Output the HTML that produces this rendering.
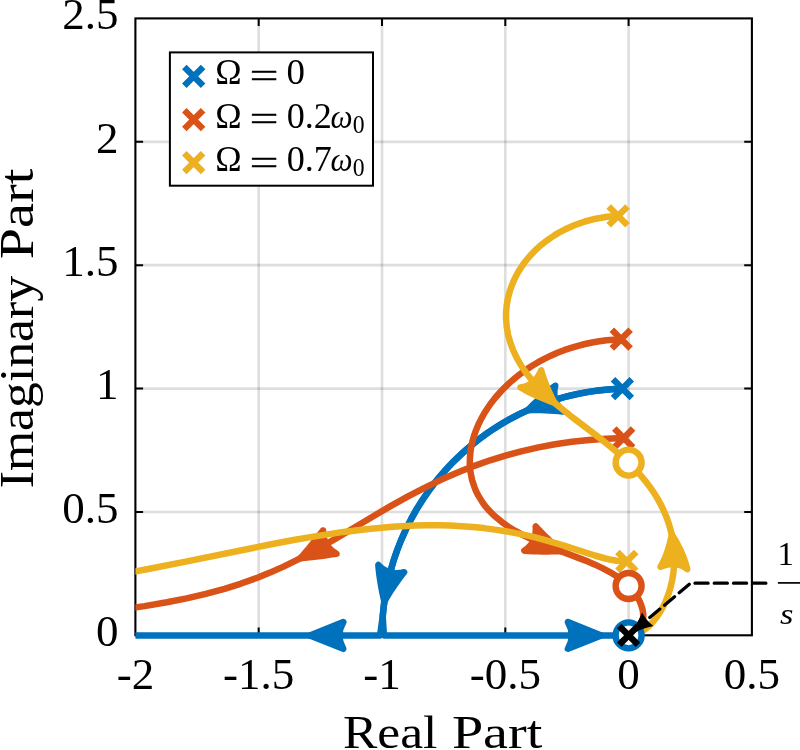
<!DOCTYPE html>
<html><head><meta charset="utf-8"><title>Root Locus</title>
<style>html,body{margin:0;padding:0;background:#fff}svg{display:block}</style></head>
<body>
<svg width="800" height="750" viewBox="0 0 800 750">
<rect width="800" height="750" fill="#fff"/>
<path d="M258.7,18.4 V635.3 M382.0,18.4 V635.3 M505.3,18.4 V635.3 M628.6,18.4 V635.3" stroke="#000" stroke-opacity="0.13" stroke-width="2.7" fill="none"/>
<path d="M135.4,512.0 H751.9 M135.4,388.6 H751.9 M135.4,265.2 H751.9 M135.4,141.8 H751.9" stroke="#000" stroke-opacity="0.13" stroke-width="2.7" fill="none"/>
<defs><clipPath id="cp"><rect x="135.4" y="18.4" width="616.5" height="646.9"/></clipPath></defs>
<path d="M258.7,635.3 v-7.7 M258.7,18.4 v7.7 M382.0,635.3 v-7.7 M382.0,18.4 v7.7 M505.3,635.3 v-7.7 M505.3,18.4 v7.7 M628.6,635.3 v-7.7 M628.6,18.4 v7.7 M135.4,512.0 h7.7 M751.9,512.0 h-7.7 M135.4,388.6 h7.7 M751.9,388.6 h-7.7 M135.4,265.2 h7.7 M751.9,265.2 h-7.7 M135.4,141.8 h7.7 M751.9,141.8 h-7.7" stroke="#000" stroke-width="2" fill="none"/>
<rect x="135.4" y="18.4" width="616.5" height="616.9" fill="none" stroke="#000" stroke-width="2.1"/>
<path d="M613.0,379.2 l18.8,18.8 M613.0,398.0 l18.8,-18.8" stroke="#0072BD" stroke-width="6.4" fill="none"/>
<path d="M611.8,329.8 l18.8,18.8 M611.8,348.6 l18.8,-18.8" stroke="#D95319" stroke-width="6.4" fill="none"/>
<path d="M614.3,428.6 l18.8,18.8 M614.3,447.4 l18.8,-18.8" stroke="#D95319" stroke-width="6.4" fill="none"/>
<path d="M608.7,206.4 l18.8,18.8 M608.7,225.2 l18.8,-18.8" stroke="#EDB120" stroke-width="6.4" fill="none"/>
<path d="M617.4,552.0 l18.8,18.8 M617.4,570.8 l18.8,-18.8" stroke="#EDB120" stroke-width="6.4" fill="none"/>
<g clip-path="url(#cp)">
<path d="M622.4,388.7 L611.1,389.2 L599.8,390.3 L588.6,391.9 L577.5,394.0 L566.5,396.5 L555.6,399.7 L545.0,403.2 L534.3,407.3 L524.0,411.9 L513.9,416.9 L504.1,422.3 L494.3,428.4 L484.9,434.8 L475.8,441.7 L467.0,449.0 L458.6,456.6 L450.4,464.8 L442.8,473.1 L435.5,481.9 L429.1,490.3 L423.1,499.0 L416.8,508.9 L411.1,519.1 L405.8,529.6 L401.1,540.1 L397.0,550.6 L393.5,560.8 L390.0,573.1 L387.8,582.1 L385.7,593.1 L384.2,602.5 L382.7,616.4 L383.9,635.4 L628.6,635.4" fill="none" stroke="#0072BD" stroke-width="6.5" stroke-linejoin="round"/>
<path d="M622.4,388.7 L610.6,389.3 L598.8,390.4 L587.2,392.1 L575.5,394.4 L564.1,397.2 L552.7,400.6 L541.4,404.6 L530.5,409.0 L519.7,414.0 L509.1,419.5 L498.9,425.5 L489.1,431.9 L479.3,438.9 L470.3,446.2 L461.6,453.8 L453.0,462.1 L445.0,470.6 L437.2,479.7 L429.7,489.5 L423.1,499.0 L416.8,508.9 L411.1,519.1 L405.8,529.6 L401.1,540.1 L397.0,550.6 L393.5,560.8 L390.7,570.5 L387.8,582.1 L386.4,589.1 L384.9,597.5 L383.5,608.5 L382.7,616.4 L380.1,635.4 L96.6,635.4" fill="none" stroke="#0072BD" stroke-width="6.5" stroke-linejoin="round"/>
<path transform="translate(306.7,635.4) rotate(180.0)" d="M-3.2,0 L-36.6,-13.4 Q-28.8,0 -36.6,13.4 Z" fill="#0072BD" stroke="#0072BD" stroke-width="6.5" stroke-linejoin="round"/>
<path transform="translate(604.5,635.4) rotate(0.0)" d="M-3.2,0 L-36.6,-13.4 Q-28.8,0 -36.6,13.4 Z" fill="#0072BD" stroke="#0072BD" stroke-width="6.5" stroke-linejoin="round"/>
<path d="M384.4,601.3 L386.6,597.4 L389.0,593.6 L391.3,589.9 L393.8,586.2 L396.3,582.6 L398.8,579.1 L401.4,575.6 L404.1,572.2 L401.6,572.7 L399.2,573.1 L396.9,573.2 L394.6,573.1 L392.4,572.9 L390.2,572.4 L388.0,571.7 L386.0,570.8 L384.0,569.7 L382.0,568.4 L380.1,566.8 L378.3,565.0 L378.8,569.7 L379.3,574.3 L380.0,578.9 L380.7,583.5 L381.5,588.0 L382.4,592.5 L383.3,596.9 Z" fill="#0072BD" stroke="#0072BD" stroke-width="6.5" stroke-linejoin="round"/>
<path d="M527.7,410.2 L532.2,410.1 L536.7,410.0 L541.1,410.0 L545.5,410.2 L549.9,410.4 L554.2,410.7 L558.5,411.0 L562.8,411.5 L561.1,409.7 L559.5,407.8 L558.2,405.9 L557.0,403.9 L556.1,401.9 L555.3,399.8 L554.7,397.6 L554.4,395.4 L554.3,393.1 L554.4,390.7 L554.7,388.3 L555.2,385.8 L551.5,388.6 L547.9,391.6 L544.3,394.6 L540.9,397.6 L537.5,400.7 L534.1,403.8 L530.9,407.0 Z" fill="#0072BD" stroke="#0072BD" stroke-width="6.5" stroke-linejoin="round"/>
<path d="M621.2,339.3 L613.9,339.7 L606.6,340.3 L599.3,341.3 L592.1,342.5 L585.0,344.0 L578.0,345.8 L571.1,347.9 L564.1,350.2 L557.4,352.8 L550.8,355.7 L544.4,358.8 L538.1,362.2 L531.8,366.0 L526.0,369.8 L520.4,373.8 L514.9,378.2 L509.5,382.9 L504.6,387.6 L499.9,392.5 L495.5,397.5 L491.4,402.7 L487.7,408.0 L484.3,413.2 L481.2,418.9 L478.4,424.5 L475.9,430.5 L473.9,436.2 L472.4,441.6 L471.1,447.3 L470.3,453.3 L469.9,458.7 L469.8,464.2 L470.5,472.1 L472.1,480.0 L474.6,487.6 L476.1,491.3 L478.2,495.4 L482.5,502.4 L485.0,505.8 L488.0,509.4 L494.3,515.8 L501.3,521.6 L507.9,526.4 L514.9,530.7 L522.6,534.9 L531.4,539.2 L539.1,542.6 L548.0,546.2 L585.6,560.6 L594.5,564.4 L602.4,568.1 L609.9,572.1 L616.6,576.3 L622.6,580.7 L627.8,585.3" fill="none" stroke="#D95319" stroke-width="6.5" stroke-linejoin="round"/>
<path d="M623.7,438.0 L606.2,438.7 L589.0,440.0 L571.9,441.8 L555.0,444.3 L538.5,447.4 L522.1,451.1 L506.2,455.4 L490.1,460.3 L473.7,466.1 L457.6,472.5 L441.4,479.6 L424.5,487.8 L408.5,496.1 L391.4,505.6 L375.0,515.2 L333.1,540.2 L309.5,553.5 L296.2,560.4 L283.5,566.6 L270.0,572.6 L257.4,577.7 L240.4,583.8 L224.5,588.8 L205.9,593.9 L186.6,598.4 L166.9,602.3 L144.5,606.1 L121.6,609.3 L95.9,612.4" fill="none" stroke="#D95319" stroke-width="6.5" stroke-linejoin="round"/>
<path d="M628.6,635.4 L631.5,635.0 L634.2,634.0 L636.8,632.3 L639.0,630.0 L640.8,627.2 L642.1,624.0 L643.0,620.5 L643.3,616.7 L643.1,613.0 L642.5,609.2 L641.3,605.4 L639.8,601.5 L637.8,597.7 L635.4,594.0 L632.6,590.4 L629.4,586.8" fill="none" stroke="#D95319" stroke-width="6.5" stroke-linejoin="round"/>
<path d="M300.5,558.2 L305.0,557.8 L309.5,557.3 L314.0,556.8 L318.5,556.2 L323.0,555.7 L327.5,555.0 L332.0,554.4 L336.5,553.7 L334.3,552.4 L332.3,551.0 L330.6,549.4 L329.0,547.8 L327.6,546.0 L326.4,544.1 L325.4,542.1 L324.5,540.0 L323.9,537.8 L323.4,535.5 L323.1,533.1 L323.0,530.6 L320.3,534.1 L317.6,537.6 L314.8,541.0 L312.0,544.5 L309.2,548.0 L306.3,551.4 L303.4,554.8 Z" fill="#D95319" stroke="#D95319" stroke-width="6.5" stroke-linejoin="round"/>
<path d="M561.0,551.2 L557.7,548.1 L554.4,545.1 L551.1,542.0 L547.9,538.9 L544.7,535.9 L541.7,532.7 L538.6,529.6 L535.7,526.4 L535.8,528.9 L535.7,531.3 L535.5,533.7 L535.1,535.9 L534.4,538.1 L533.6,540.2 L532.6,542.2 L531.4,544.1 L530.0,545.9 L528.3,547.6 L526.5,549.2 L524.4,550.7 L529.1,551.0 L533.7,551.2 L538.3,551.3 L542.9,551.4 L547.5,551.4 L552.0,551.3 L556.5,551.3 Z" fill="#D95319" stroke="#D95319" stroke-width="6.5" stroke-linejoin="round"/>
<path d="M618.1,215.9 L606.9,216.8 L595.8,218.7 L584.9,221.5 L579.6,223.3 L574.3,225.2 L564.3,229.8 L559.5,232.3 L554.8,235.1 L550.3,238.1 L545.8,241.3 L541.5,244.7 L537.6,248.2 L533.7,251.9 L530.3,255.5 L526.9,259.5 L523.7,263.6 L520.9,267.8 L518.1,272.3 L515.7,276.7 L513.6,281.1 L511.7,285.7 L510.0,290.5 L508.7,295.1 L507.6,299.9 L506.8,304.7 L506.3,309.6 L506.0,314.2 L506.1,319.2 L506.8,327.4 L508.2,335.3 L510.5,343.2 L513.4,350.9 L517.1,358.5 L521.4,366.0 L526.6,373.5 L532.5,380.9 L537.8,386.8 L543.5,392.6 L549.7,398.5 L556.8,404.7 L570.5,415.8 L596.9,435.9 L607.4,444.2 L618.0,452.9 L627.1,461.2" fill="none" stroke="#EDB120" stroke-width="6.5" stroke-linejoin="round"/>
<path d="M626.8,561.4 L621.8,561.3 L616.7,560.7 L611.3,559.8 L605.4,558.5 L594.8,555.5 L563.2,545.3 L545.3,540.1 L535.3,537.4 L525.5,535.1 L515.6,533.1 L505.6,531.2 L494.8,529.6 L483.8,528.1 L472.8,527.0 L461.6,526.2 L450.5,525.6 L438.9,525.3 L426.9,525.3 L415.1,525.5 L392.6,526.7 L368.6,528.9 L343.6,531.9 L316.4,536.1 L293.6,540.0 L268.6,544.8 L183.2,562.1 L150.8,568.5 L122.4,573.8 L95.5,578.5" fill="none" stroke="#EDB120" stroke-width="6.5" stroke-linejoin="round"/>
<path d="M628.6,635.4 L632.7,635.0 L636.8,633.9 L641.0,631.9 L645.0,629.3 L649.1,625.9 L653.0,621.7 L656.8,617.0 L660.2,611.7 L663.4,606.1 L666.2,600.0 L668.6,593.7 L670.6,587.1 L672.2,580.3 L673.3,573.5 L674.0,566.6 L674.3,559.6 L674.2,553.2 L673.7,546.9 L672.9,540.5 L671.7,534.3 L670.1,528.1 L668.2,521.9 L665.9,515.7 L663.3,509.7 L660.4,503.8 L657.1,497.9 L653.5,492.1 L649.5,486.4 L645.2,480.8 L640.5,475.2 L635.5,469.6 L630.1,464.1" fill="none" stroke="#EDB120" stroke-width="6.5" stroke-linejoin="round"/>
<path d="M554.3,402.6 L552.3,398.6 L550.4,394.6 L548.5,390.5 L546.8,386.5 L545.2,382.5 L543.7,378.4 L542.4,374.4 L541.2,370.4 L540.2,372.7 L539.0,374.8 L537.8,376.8 L536.4,378.6 L535.0,380.3 L533.3,381.9 L531.6,383.3 L529.7,384.5 L527.6,385.5 L525.4,386.3 L523.0,387.0 L520.5,387.4 L524.7,389.8 L528.9,392.0 L533.1,394.1 L537.3,396.0 L541.6,397.8 L545.8,399.5 L550.1,401.1 Z" fill="#EDB120" stroke="#EDB120" stroke-width="6.5" stroke-linejoin="round"/>
<path d="M671.8,534.7 L670.9,539.1 L669.9,543.4 L668.7,547.6 L667.4,551.7 L665.9,555.7 L664.3,559.5 L662.5,563.2 L660.6,566.8 L662.9,565.9 L665.2,565.2 L667.5,564.6 L669.7,564.2 L672.0,564.0 L674.2,564.0 L676.4,564.3 L678.6,564.7 L680.8,565.4 L683.0,566.4 L685.2,567.6 L687.3,569.1 L685.9,564.3 L684.4,559.7 L682.7,555.2 L680.8,550.8 L678.7,546.6 L676.6,542.5 L674.2,538.5 Z" fill="#EDB120" stroke="#EDB120" stroke-width="6.5" stroke-linejoin="round"/>
</g>
<circle cx="628.6" cy="635.4" r="13.0" fill="#fff" stroke="#0072BD" stroke-width="6.4"/>
<circle cx="628.6" cy="586.0" r="13.0" fill="#fff" stroke="#D95319" stroke-width="6.4"/>
<circle cx="628.6" cy="462.6" r="13.0" fill="#fff" stroke="#EDB120" stroke-width="6.4"/>
<path d="M619.2,626.0 l18.8,18.8 M619.2,644.8 l18.8,-18.8" stroke="#000" stroke-width="6.4" fill="none"/>
<path d="M765.9,583.2 H690.6 L643.9,622.5" fill="none" stroke="#000" stroke-width="3.2" stroke-dasharray="13.2 6.05" stroke-linecap="round" stroke-linejoin="round"/>
<path transform="translate(628.6,635.4) rotate(139.9)" d="M0,0 Q-12,-2.2 -25,-8.8 Q-23,0 -25,8.8 Q-12,2.2 0,0 Z" fill="#000"/>
<path d="M777.9,582.9 H800" stroke="#000" stroke-width="1.7"/>
<text transform="translate(777.60,565.20) scale(1.000,1)" font-size="32.9" text-anchor="start" font-family="'Liberation Serif', serif">1</text>
<text transform="translate(780.10,623.60) scale(1.150,1)" font-size="30.0" text-anchor="start" font-family="'Liberation Serif', serif" font-style="italic">s</text>
<text transform="translate(135.40,688.60) scale(1.040,1)" font-size="43.3" text-anchor="middle" font-family="'Liberation Serif', serif">-2</text>
<text transform="translate(258.70,688.60) scale(1.040,1)" font-size="43.3" text-anchor="middle" font-family="'Liberation Serif', serif">-1.5</text>
<text transform="translate(382.00,688.60) scale(1.040,1)" font-size="43.3" text-anchor="middle" font-family="'Liberation Serif', serif">-1</text>
<text transform="translate(505.30,688.60) scale(1.040,1)" font-size="43.3" text-anchor="middle" font-family="'Liberation Serif', serif">-0.5</text>
<text transform="translate(628.60,688.60) scale(1.040,1)" font-size="43.3" text-anchor="middle" font-family="'Liberation Serif', serif">0</text>
<text transform="translate(751.90,688.60) scale(1.040,1)" font-size="43.3" text-anchor="middle" font-family="'Liberation Serif', serif">0.5</text>
<text transform="translate(118.60,646.10) scale(1.040,1)" font-size="43.3" text-anchor="end" font-family="'Liberation Serif', serif">0</text>
<text transform="translate(118.60,522.70) scale(1.040,1)" font-size="43.3" text-anchor="end" font-family="'Liberation Serif', serif">0.5</text>
<text transform="translate(118.60,399.30) scale(1.040,1)" font-size="43.3" text-anchor="end" font-family="'Liberation Serif', serif">1</text>
<text transform="translate(118.60,275.90) scale(1.040,1)" font-size="43.3" text-anchor="end" font-family="'Liberation Serif', serif">1.5</text>
<text transform="translate(118.60,152.50) scale(1.040,1)" font-size="43.3" text-anchor="end" font-family="'Liberation Serif', serif">2</text>
<text transform="translate(118.60,29.10) scale(1.040,1)" font-size="43.3" text-anchor="end" font-family="'Liberation Serif', serif">2.5</text>
<text transform="translate(342.90,747.60) scale(1.085,1)" font-size="47.5" text-anchor="start" font-family="'Liberation Serif', serif">Real</text>
<text transform="translate(451.90,747.60) scale(1.182,1)" font-size="47.5" text-anchor="start" font-family="'Liberation Serif', serif">Part</text>
<text transform="translate(33,488.3) rotate(-90) scale(1.0885,1)" font-size="47.5" text-anchor="start" font-family="'Liberation Serif', serif">Imaginary</text>
<text transform="translate(33,259.3) rotate(-90) scale(1.185,1)" font-size="47.5" text-anchor="start" font-family="'Liberation Serif', serif">Part</text>
<rect x="169.9" y="52.4" width="203.1" height="133.3" fill="#fff" stroke="#000" stroke-width="2"/>
<path d="M184.3,67.0 l18.8,18.8 M184.3,85.8 l18.8,-18.8" stroke="#0072BD" stroke-width="6.4" fill="none"/>
<text transform="translate(215.25,84.45) scale(1.000,1)" font-size="35.5" text-anchor="start" font-family="'Liberation Serif', serif">Ω</text>
<text transform="translate(249.40,88.25) scale(1.454,1)" font-size="35.5" text-anchor="start" font-family="'Liberation Serif', serif" stroke="#000" stroke-width="0.25">=</text>
<text transform="translate(286.40,84.45) scale(1.040,1)" font-size="35.5" text-anchor="start" font-family="'Liberation Serif', serif">0</text>
<path d="M184.3,110.2 l18.8,18.8 M184.3,129.0 l18.8,-18.8" stroke="#D95319" stroke-width="6.4" fill="none"/>
<text transform="translate(215.25,127.60) scale(1.000,1)" font-size="35.5" text-anchor="start" font-family="'Liberation Serif', serif">Ω</text>
<text transform="translate(249.40,131.40) scale(1.454,1)" font-size="35.5" text-anchor="start" font-family="'Liberation Serif', serif" stroke="#000" stroke-width="0.25">=</text>
<text transform="translate(286.70,127.60) scale(1.018,1)" font-size="35.5" text-anchor="start" font-family="'Liberation Serif', serif">0.2</text>
<text transform="translate(330.50,127.60) scale(0.920,1)" font-size="34.0" text-anchor="start" font-family="'Liberation Serif', serif" font-style="italic">ω</text>
<text transform="translate(352.85,132.90) scale(0.950,1)" font-size="25.0" text-anchor="start" font-family="'Liberation Serif', serif">0</text>
<path d="M184.3,153.3 l18.8,18.8 M184.3,172.1 l18.8,-18.8" stroke="#EDB120" stroke-width="6.4" fill="none"/>
<text transform="translate(215.25,170.75) scale(1.000,1)" font-size="35.5" text-anchor="start" font-family="'Liberation Serif', serif">Ω</text>
<text transform="translate(249.40,174.55) scale(1.454,1)" font-size="35.5" text-anchor="start" font-family="'Liberation Serif', serif" stroke="#000" stroke-width="0.25">=</text>
<text transform="translate(286.70,170.75) scale(1.018,1)" font-size="35.5" text-anchor="start" font-family="'Liberation Serif', serif">0.7</text>
<text transform="translate(330.50,170.75) scale(0.920,1)" font-size="34.0" text-anchor="start" font-family="'Liberation Serif', serif" font-style="italic">ω</text>
<text transform="translate(352.85,176.05) scale(0.950,1)" font-size="25.0" text-anchor="start" font-family="'Liberation Serif', serif">0</text>
</svg>
</body></html>
